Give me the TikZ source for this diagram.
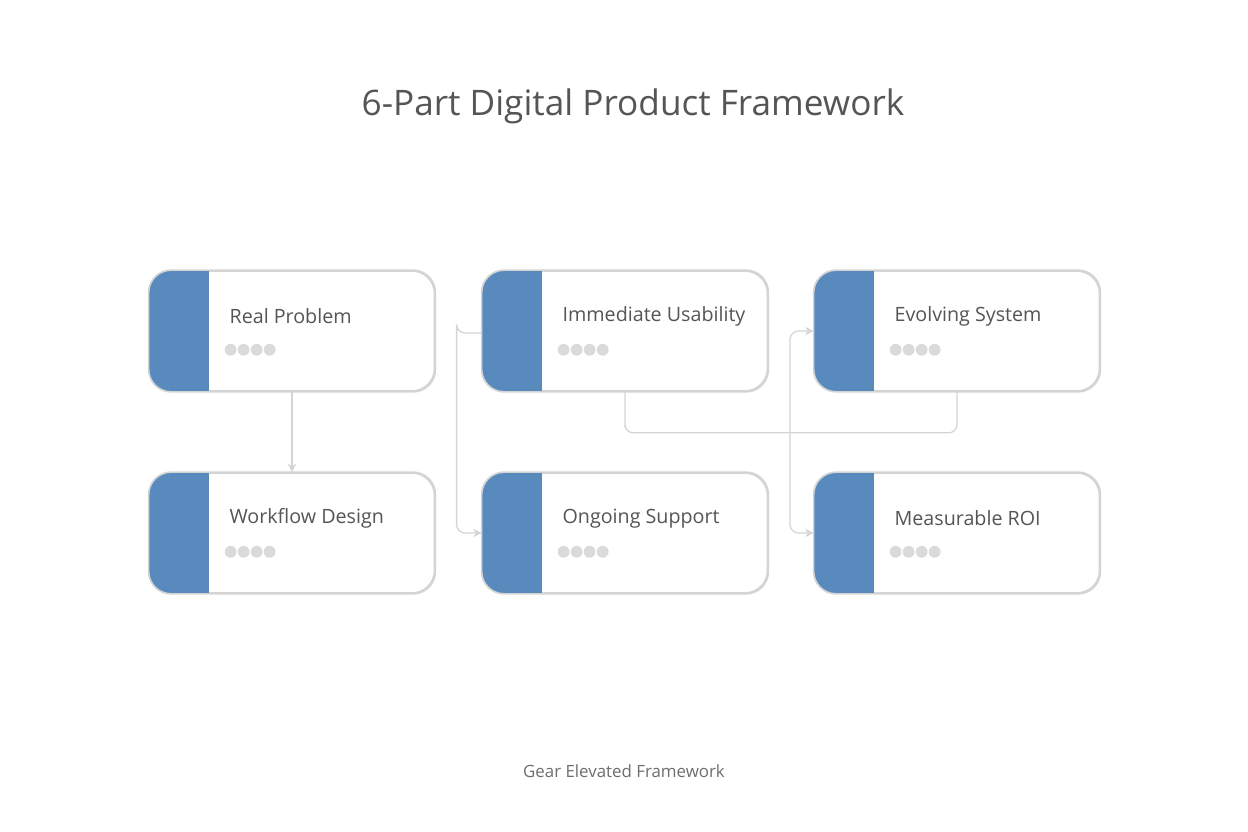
\documentclass[tikz,border=0pt]{standalone}
\usepackage{fontspec}
\setmainfont{Open Sans}
\usetikzlibrary{positioning,arrows.meta}
\definecolor{fwblue}{RGB}{88,138,190}
\definecolor{fwgrey}{RGB}{212,212,212}
\definecolor{fwtext}{RGB}{85,85,85}
\definecolor{fwdot}{RGB}{218,218,218}

\begin{document}
\begin{tikzpicture}[x=0.025cm, y=-0.025cm]
    % Define styles
    \tikzset{
        card/.style={rectangle, draw=fwgrey, line width=1.2pt, fill=white, rounded corners=16pt,
            minimum width=7.125cm, minimum height=3cm, inner sep=0pt},
        lbl/.style={text=fwtext, font=\fontsize{14}{16}\selectfont, anchor=west},
        link/.style={draw=fwgrey, line width=0.9pt, rounded corners=6pt},
        tip/.style={-{Stealth[length=6pt,width=6pt]}}
    }
    \useasboundingbox (0,0) rectangle (1248,832);
    \fill[white] (0,0) rectangle (1248,832);

    % Title and footer
    \node[text=fwtext, font=\fontsize{25}{30}\selectfont] (title) at (633,106) {6-Part Digital Product Framework};
    \node[text=fwtext!85, font=\fontsize{12}{14}\selectfont] (foot) at (624,771) {Gear Elevated Framework};

    % Cards
    \foreach \name/\x/\y/\txt in {real/292/331/Real Problem, usab/625/331/Immediate Usability,
        evol/957/331/Evolving System, flow/292/533/Workflow Design,
        supp/625/533/Ongoing Support, roi/957/533/Measurable ROI}{
        \node[card] (\name) at (\x,\y) {};
        \begin{scope}
            \clip[rounded corners=16pt] (\name.north west) rectangle (\name.south east);
            \fill[fwblue] (\name.north west) rectangle ([xshift=1.5cm]\name.south west);
        \end{scope}
        \draw[fwgrey, line width=1.2pt, rounded corners=16pt] (\name.north west) rectangle (\name.south east);
        \node[lbl] (\name-t) at ([xshift=1.9cm, yshift=0.37cm]\name.west) {\txt};
        \foreach \i in {0,1,2,3}
            \fill[fwdot] ([xshift=2.05cm+\i*0.325cm, yshift=-0.47cm]\name.west) circle (4.2pt);
    }

    % Connectors
    \draw[link, tip] (real) -- (flow);
    \draw[link, tip] ([yshift=-0.05cm]usab.west) -| ++(-25,0) |- (supp.west);
    \draw[link] (usab.south) |- ++(0,41) -| (evol.south);
    \coordinate (mid) at (790,432);
    \draw[link, tip] (mid) |- (evol.west);
    \draw[link, tip] (mid) |- (roi.west);
\end{tikzpicture}
\end{document}
